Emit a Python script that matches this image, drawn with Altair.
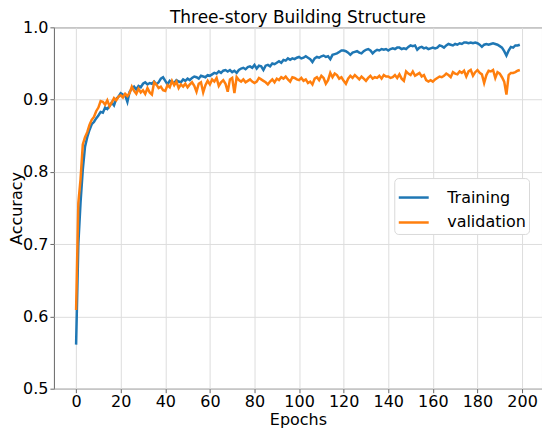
import altair as alt
import pandas as pd

training = [
    0.561, 0.700, 0.758, 0.803, 0.835, 0.848, 0.858, 0.866, 0.869, 0.874,
    0.878, 0.883, 0.882, 0.889, 0.887, 0.891, 0.896, 0.892, 0.901, 0.904,
    0.909, 0.907, 0.906, 0.897, 0.911, 0.915, 0.918, 0.914, 0.919, 0.917,
    0.922, 0.924, 0.921, 0.923, 0.922, 0.925, 0.921, 0.924, 0.929, 0.931,
    0.926, 0.921, 0.926, 0.924, 0.923, 0.927, 0.925, 0.924, 0.928, 0.926,
    0.929, 0.927, 0.930, 0.932, 0.931, 0.929, 0.933, 0.932, 0.931, 0.934,
    0.933, 0.935, 0.937, 0.936, 0.939, 0.937, 0.940, 0.941, 0.939, 0.941,
    0.938, 0.940, 0.937, 0.941, 0.943, 0.944, 0.942, 0.945, 0.946, 0.944,
    0.948, 0.943, 0.947, 0.946, 0.941, 0.947, 0.948, 0.946, 0.950, 0.949,
    0.951, 0.953, 0.951, 0.955, 0.954, 0.957, 0.955, 0.957, 0.956, 0.958,
    0.959, 0.957, 0.958, 0.960, 0.958, 0.956, 0.952, 0.957, 0.959, 0.958,
    0.960, 0.961, 0.959, 0.960, 0.956, 0.962, 0.963, 0.964, 0.966, 0.968,
    0.968, 0.967, 0.965, 0.962, 0.965, 0.966, 0.967, 0.965, 0.964, 0.967,
    0.969, 0.970, 0.968, 0.964, 0.967, 0.969, 0.968, 0.970, 0.969, 0.970,
    0.968, 0.970, 0.971, 0.970, 0.972, 0.972, 0.970, 0.971, 0.970, 0.973,
    0.975, 0.974, 0.975, 0.969, 0.972, 0.973, 0.971, 0.972, 0.970, 0.971,
    0.972, 0.971, 0.972, 0.975, 0.974, 0.972, 0.975, 0.977, 0.976, 0.975,
    0.977, 0.976, 0.978, 0.977, 0.979, 0.979, 0.978, 0.979, 0.978, 0.979,
    0.978, 0.976, 0.973, 0.976, 0.977, 0.976, 0.977, 0.978, 0.977, 0.976,
    0.974, 0.972, 0.967, 0.961, 0.968, 0.973, 0.972, 0.975, 0.975, 0.976,
]

validation = [
    0.609, 0.757, 0.790, 0.838, 0.848, 0.855, 0.865, 0.872, 0.876, 0.884,
    0.889, 0.898, 0.897, 0.893, 0.899, 0.891, 0.896, 0.902, 0.899, 0.904,
    0.906, 0.903, 0.908, 0.905, 0.909, 0.918, 0.912, 0.908, 0.915, 0.910,
    0.913, 0.908, 0.916, 0.910, 0.907, 0.924, 0.921, 0.916, 0.918, 0.913,
    0.912, 0.920, 0.917, 0.926, 0.920, 0.925, 0.916, 0.921, 0.918, 0.922,
    0.917, 0.921, 0.924, 0.919, 0.911, 0.922, 0.924, 0.910, 0.920, 0.926,
    0.921, 0.928, 0.925, 0.930, 0.919, 0.924, 0.927, 0.922, 0.911, 0.928,
    0.930, 0.909, 0.931, 0.927, 0.925, 0.928, 0.924, 0.926, 0.928, 0.925,
    0.923, 0.925, 0.930, 0.928, 0.926, 0.924, 0.921, 0.925, 0.928, 0.924,
    0.929, 0.927, 0.931, 0.929, 0.932, 0.928, 0.925, 0.931, 0.930, 0.928,
    0.927, 0.930, 0.926, 0.928, 0.923, 0.925, 0.921, 0.929, 0.931, 0.927,
    0.933, 0.930, 0.922, 0.927, 0.937, 0.931, 0.936, 0.934, 0.929, 0.931,
    0.926, 0.922, 0.929, 0.933, 0.930, 0.934, 0.931, 0.928, 0.932, 0.929,
    0.926, 0.930, 0.933, 0.929, 0.931, 0.930, 0.933, 0.929, 0.934, 0.932,
    0.932, 0.930, 0.931, 0.934, 0.930, 0.935, 0.929, 0.926, 0.939, 0.936,
    0.934, 0.939, 0.933, 0.935, 0.937, 0.932, 0.934, 0.927, 0.925, 0.927,
    0.925, 0.928, 0.930, 0.932, 0.931, 0.933, 0.936, 0.934, 0.931, 0.938,
    0.936, 0.935, 0.939, 0.937, 0.940, 0.932, 0.939, 0.941, 0.933, 0.938,
    0.941, 0.937, 0.935, 0.923, 0.934, 0.940, 0.939, 0.941, 0.930, 0.938,
    0.936, 0.931, 0.925, 0.907, 0.934, 0.937, 0.937, 0.938, 0.940, 0.941,
]

series_names = ["Training", "validation"]
series_colors = ["#1f77b4", "#ff7f0e"]
x_ticks = [0, 20, 40, 60, 80, 100, 120, 140, 160, 180, 200]
y_ticks = [0.5, 0.6, 0.7, 0.8, 0.9, 1.0]

rows = []
for i, v in enumerate(training):
    rows.append({"epoch": i, "acc": v, "series": series_names[0]})
for i, v in enumerate(validation):
    rows.append({"epoch": i, "acc": v, "series": series_names[1]})
df = pd.DataFrame(rows)

FONT = "DejaVu Sans"
W, H = 489, 362

chart = (
    alt.Chart(df)
    .mark_line(strokeWidth=2.5, clip=True)
    .encode(
        x=alt.X(
            "epoch:Q",
            scale=alt.Scale(domain=[-9.95, 208.95], nice=False, zero=False),
            axis=alt.Axis(
                title="Epochs",
                values=x_ticks,
                format="d",
                labelFlush=False,
                labelOverlap=False,
                labelPadding=0.5,
                titleY=36,
                titleBaseline="alphabetic",
            ),
        ),
        y=alt.Y(
            "acc:Q",
            scale=alt.Scale(domain=[0.5, 1.0], nice=False, zero=False),
            axis=alt.Axis(
                title="Accuracy",
                values=y_ticks,
                format=".1f",
                labelFlush=False,
                labelOverlap=False,
                labelPadding=2,
                titleX=-32,
                titleY=H / 2,
                titleBaseline="alphabetic",
                titleAngle=270,
            ),
        ),
        color=alt.Color(
            "series:N",
            scale=alt.Scale(domain=series_names, range=series_colors),
            legend=alt.Legend(
                title=None,
                orient="none",
                legendX=341,
                legendY=151,
                symbolType="stroke",
                symbolSize=900,
                symbolStrokeWidth=2.5,
                labelFontSize=16,
                labelFont=FONT,
                labelColor="black",
                padding=3,
                rowPadding=-4,
                labelOffset=17,
                strokeColor="#d9d9d9",
                fillColor="white",
                cornerRadius=4,
            ),
        ),
    )
    .properties(
        width=W,
        height=H,
        title=alt.TitleParams(
            "Three-story Building Structure",
            font=FONT,
            fontSize=17,
            fontWeight="normal",
            color="black",
            offset=-8,
        ),
        autosize=alt.AutoSizeParams(type="none"),
        padding={"left": 46, "top": 19, "right": 0, "bottom": 42},
    )
    .configure_view(stroke="#666666", strokeWidth=1)
    .configure_axis(
        labelFont=FONT,
        labelFontSize=16,
        labelColor="black",
        titleFont=FONT,
        titleFontSize=16,
        titleFontWeight="normal",
        titleColor="black",
        domain=False,
        tickColor="#666666",
        tickSize=4,
        grid=True,
        gridColor="#dddddd",
        gridWidth=1,
    )
)

chart.save("out.html", embed_options={"renderer": "svg", "actions": False})
